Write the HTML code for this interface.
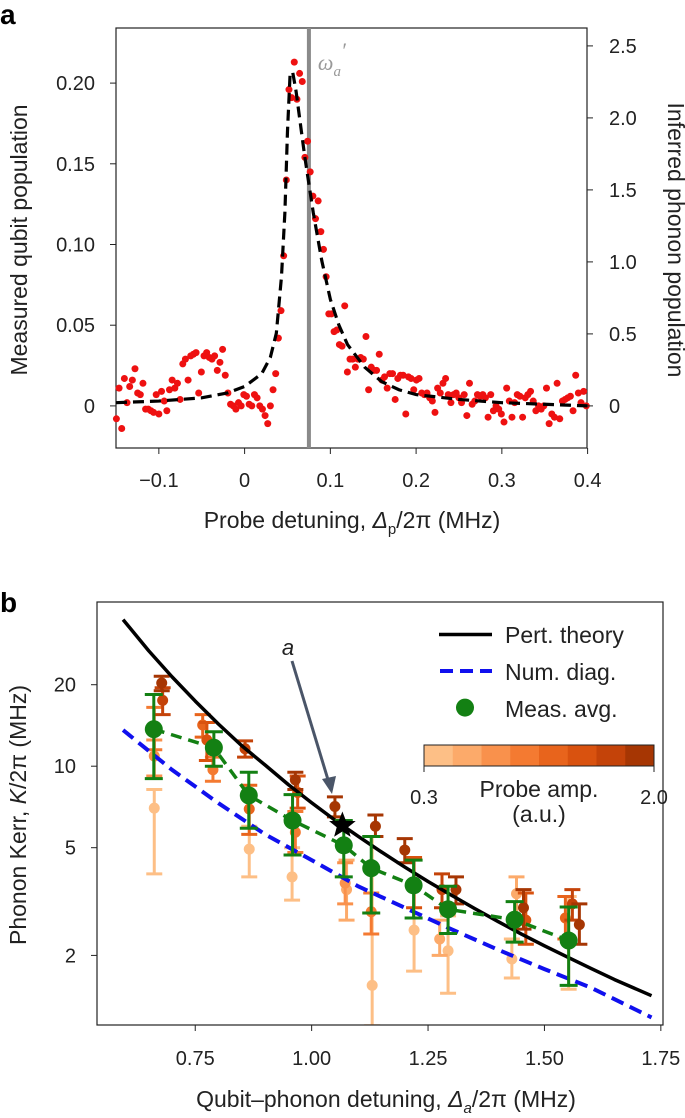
<!DOCTYPE html>
<html><head><meta charset="utf-8">
<style>
html,body{margin:0;padding:0;background:#fff;}
svg{display:block;font-family:"Liberation Sans",sans-serif;}
</style></head>
<body>
<svg id="fig" width="685" height="1118" viewBox="0 0 685 1118" xmlns="http://www.w3.org/2000/svg">
<text x="0" y="24" font-size="28" font-weight="bold">a</text>
<text x="0" y="612" font-size="28" font-weight="bold">b</text>
<g id="pa"></g>
<g id="pb"></g>
</svg>
<script>
// ---------- Panel a data ----------
const aXTicks = [-0.1, 0, 0.1, 0.2, 0.3, 0.4];
const aXTickLabels = ['\u22120.1','0','0.1','0.2','0.3','0.4'];
const aYTicks = [0, 0.05, 0.10, 0.15, 0.20];
const aYTickLabels = ['0','0.05','0.10','0.15','0.20'];
const aY2Ticks = [0, 0.5, 1.0, 1.5, 2.0, 2.5];
const aY2TickLabels = ['0','0.5','1.0','1.5','2.0','2.5'];
const aScatterY = [-0.008,0.011,-0.014,0.017,0.002,0.012,0.016,0.023,0.008,0.007,0.014,-0.002,-0.002,-0.003,-0.004,0.007,-0.005,0.009,0.003,-0.003,0.010,0.016,0.011,0.014,0.004,0.026,0.029,0.016,0.031,0.032,0.033,0.008,0.021,0.031,0.033,0.030,0.029,0.031,0.022,0.027,0.035,0.019,0.008,0.001,0.000,-0.002,0.002,0.000,0.007,0.006,0.001,0.000,0.007,0.005,0.000,-0.002,-0.006,-0.011,0.000,0.010,0.020,0.042,0.059,0.093,0.140,0.196,0.191,0.213,0.190,0.206,0.201,0.154,0.164,0.145,0.130,0.116,0.127,0.108,0.097,0.080,0.057,0.057,0.046,0.047,0.038,0.037,0.062,0.021,0.029,0.029,0.024,0.029,0.030,0.029,0.043,0.010,0.024,0.022,0.022,0.032,0.016,0.018,0.011,0.020,0.020,0.004,0.017,0.019,0.019,-0.005,0.018,0.017,0.010,0.016,0.017,0.008,0.007,0.008,0.005,0.003,-0.004,0.011,0.008,0.014,0.017,0.007,0.002,0.007,0.008,0.005,0.002,0.007,-0.006,0.014,0.001,0.003,0.007,0.006,0.007,0.005,-0.007,0.007,-0.003,0.000,-0.002,-0.005,-0.010,0.011,0.003,-0.007,0.002,0.007,0.006,-0.007,0.005,0.007,0.009,0.003,-0.003,0.000,-0.002,0.000,0.011,-0.011,-0.005,-0.007,0.014,-0.008,0.003,0.004,0.005,0.006,-0.003,0.019,0.008,0.002,0.009,0.000];
const aScatterXStart = -0.1495, aScatterXEnd = 0.3985;
const aFitX = [-0.15,-0.1,-0.05,-0.02,0,0.02,0.03,0.037,0.043,0.047,0.05,0.053,0.056,0.06,0.065,0.07,0.08,0.09,0.1,0.11,0.12,0.14,0.16,0.18,0.2,0.25,0.3,0.35,0.4];
const aFitY = [0.002,0.003,0.005,0.008,0.012,0.02,0.03,0.045,0.08,0.12,0.17,0.205,0.207,0.195,0.175,0.155,0.12,0.09,0.066,0.05,0.038,0.024,0.015,0.010,0.007,0.004,0.002,0.001,0.0];
const aMarkerX = 0.075;

// ---------- Panel b data ----------
const bXTicks = [0.75, 1.00, 1.25, 1.50, 1.75];
const bXTickLabels = ['0.75','1.00','1.25','1.50','1.75'];
const bYTicks = [2, 5, 10, 20];
const bYTickLabels = ['2','5','10','20'];
const theoryX = [0.595,0.65,0.7,0.75,0.8,0.85,0.9,0.95,1.0,1.05,1.1,1.15,1.2,1.25,1.3,1.35,1.4,1.45,1.5,1.55,1.6,1.65,1.73];
const theoryK = [34.8,26.7,21.4,17.4,14.3,11.9,10.1,8.55,7.33,6.32,5.51,4.82,4.24,3.75,3.34,2.98,2.67,2.40,2.17,1.97,1.79,1.63,1.42];
const numX = [0.595,0.7,0.8,0.9,1.0,1.1,1.2,1.3,1.4,1.5,1.6,1.73];
const numK = [13.6,9.7,7.3,5.6,4.5,3.6,3.0,2.5,2.1,1.78,1.52,1.18];
const avgX = [0.661,0.790,0.865,0.959,1.069,1.128,1.219,1.293,1.436,1.552];
const avgK = [13.7,11.7,7.8,6.3,5.1,4.2,3.63,2.96,2.71,2.27];
const avgLo = [9.0,10.0,5.9,4.7,3.9,2.87,2.75,2.41,2.24,1.55];
const avgHi = [18.4,13.4,9.5,7.85,6.3,5.5,4.5,3.6,3.16,3.02];
const ptX = [0.678,0.68,0.662,0.662,0.662,0.766,0.775,0.788,0.857,0.866,0.866,0.965,0.97,0.965,0.958,1.05,1.072,1.075,1.137,1.128,1.13,1.20,1.22,1.22,1.28,1.31,1.275,1.293,1.44,1.455,1.46,1.43,1.56,1.545,1.575,1.552];
const ptK = [20.3,17.5,13.8,10.9,7.0,14.2,12.5,9.7,11.6,6.95,4.94,8.9,8.0,5.7,3.9,7.1,3.7,3.5,6.0,2.9,1.55,4.9,3.7,2.48,3.5,3.5,2.3,2.08,3.38,3.0,2.7,1.94,3.1,2.75,2.6,2.2];
const ptLo = [19,15.5,11.5,9.2,4.0,12.8,10.5,8.8,10.8,5.6,3.9,8.2,7.0,4.8,3.2,6.5,3.1,2.7,5.5,2.4,1.1,4.4,3.0,1.75,3.0,3.1,2.0,1.45,2.6,2.5,2.2,1.65,2.7,2.3,2.2,1.5];
const ptHi = [21.5,19.5,16.5,12.5,8.2,15.5,14.5,10.8,12.4,8.5,6.0,9.5,9.2,6.8,5.0,7.7,4.4,4.5,6.6,3.4,5.5,5.4,4.6,3.6,4.0,3.9,2.7,2.8,3.9,3.5,3.4,2.3,3.5,3.3,3.1,3.3];
const ptLevel = [7,6,3,2,0,4,5,3,6,4,0,7,5,3,0,7,2,1,7,3,0,7,5,0,6,7,1,0,1,7,5,0,6,4,7,0];
const cbColors = ['#fdbf86','#fcaa6a','#f9914c','#f47a31','#e8641c','#d9520f','#c44309','#a63603'];

const NS='http://www.w3.org/2000/svg';
function mk(parent, tag, attrs, text){
  const e=document.createElementNS(NS,tag);
  for(const k in attrs) e.setAttribute(k, attrs[k]);
  if(text!==undefined) e.textContent=text;
  parent.appendChild(e); return e;
}
const TICK=20, TITLE=22;

// ---- Panel a ----
const pa=document.getElementById('pa');
const aL=116,aR=587,aT=28,aB=448;
const ax=v=>244.6+857.5*v;
const ay=v=>405.9-v*1614;
const ay2=v=>405.9-v*144;
let el;
el=mk(pa,'rect',{x:aL,y:aT,width:aR-aL,height:aB-aT,fill:'none',stroke:'#222','stroke-width':1.2});


el=mk(pa,'line',{x1:ax(aMarkerX),x2:ax(aMarkerX),y1:aT,y2:aB,stroke:'#8a8a8a','stroke-width':4});


el=mk(pa,'text',{x:ax(aMarkerX)+9,y:70,'font-size':22,fill:'#999','font-style':'italic','font-family':'"Liberation Serif",serif'});
el.innerHTML='ω<tspan font-size="15" dy="6">a</tspan><tspan dy="-18">′</tspan>';


const n=aScatterY.length;
aScatterY.forEach((v,i)=>{
  const xv=aScatterXStart+i*(aScatterXEnd-aScatterXStart)/(n-1);
  const c=mk(pa,'circle',{cx:ax(xv),cy:ay(v),r:3.5,fill:'#ee1111'});
  
  
});
el=mk(pa,'polyline',{points:aFitX.map((x,i)=>ax(x)+','+ay(aFitY[i])).join(' '),fill:'none',stroke:'#000','stroke-width':3.2,'stroke-dasharray':'11,6'});


aXTicks.forEach((t,i)=>{
  mk(pa,'line',{x1:ax(t),x2:ax(t),y1:aB,y2:aB+6,stroke:'#222'});
  el=mk(pa,'text',{x:ax(t),y:487,'font-size':TICK,'text-anchor':'middle',fill:'#222'},aXTickLabels[i]);
  
  
});
aYTicks.forEach((t,i)=>{
  mk(pa,'line',{x1:aL-6,x2:aL,y1:ay(t),y2:ay(t),stroke:'#222'});
  el=mk(pa,'text',{x:aL-21,y:ay(t)+7,'font-size':TICK,'text-anchor':'end',fill:'#222'},aYTickLabels[i]);
  
  
});
aY2Ticks.forEach((t,i)=>{
  mk(pa,'line',{x1:aR,x2:aR+6,y1:ay2(t),y2:ay2(t),stroke:'#222'});
  el=mk(pa,'text',{x:aR+22,y:ay2(t)+7,'font-size':TICK,'text-anchor':'start',fill:'#222'},aY2TickLabels[i]);
  
  
});
el=mk(pa,'text',{x:352,y:528,'font-size':TITLE+1,'text-anchor':'middle',fill:'#222'});
el.innerHTML='Probe detuning, <tspan font-style="italic">Δ</tspan><tspan font-size="15" dy="6">p</tspan><tspan dy="-6">/2π (MHz)</tspan>';


el=mk(pa,'text',{x:0,y:0,'font-size':TITLE+1,'text-anchor':'middle',fill:'#222',transform:'translate(27,240) rotate(-90)'},'Measured qubit population');


el=mk(pa,'text',{x:0,y:0,'font-size':TITLE+1,'text-anchor':'middle',fill:'#222',transform:'translate(668,240) rotate(90)'},'Inferred phonon population');



// ---- Panel b ----
const pb=document.getElementById('pb');
const bL=97,bR=663,bT=602,bB=1025;
const bx=v=>97+(v-0.539)*465.6;
const by=v=>766.2-(Math.log10(v)-1)*270.7;
const clipId='bclip';
const defs=mk(pb,'defs',{});
const cp=mk(defs,'clipPath',{id:clipId});
mk(cp,'rect',{x:bL,y:bT,width:bR-bL,height:bB-bT});
const g=mk(pb,'g',{'clip-path':'url(#'+clipId+')'});
const order=ptLevel.map((l,i)=>i).sort((a,b)=>ptLevel[a]-ptLevel[b]);
order.forEach(i=>{
  const c=cbColors[ptLevel[i]], x=bx(ptX[i]);
  const eg=mk(g,'g',{stroke:c,'stroke-width':3});
  
  
  mk(eg,'line',{x1:x,x2:x,y1:by(ptLo[i]),y2:by(ptHi[i])});
  mk(eg,'line',{x1:x-8,x2:x+8,y1:by(ptLo[i]),y2:by(ptLo[i])});
  mk(eg,'line',{x1:x-8,x2:x+8,y1:by(ptHi[i]),y2:by(ptHi[i])});
  const p=mk(g,'circle',{cx:x,cy:by(ptK[i]),r:5.5,fill:c});
  
  
});
el=mk(g,'polyline',{points:numX.map((x,i)=>bx(x)+','+by(numK[i])).join(' '),fill:'none',stroke:'#1010ee','stroke-width':4,'stroke-dasharray':'13,7'});


el=mk(g,'polyline',{points:theoryX.map((x,i)=>bx(x)+','+by(theoryK[i])).join(' '),fill:'none',stroke:'#000','stroke-width':3.5,'stroke-linejoin':'round'});


el=mk(g,'polyline',{points:avgX.map((x,i)=>bx(x)+','+by(avgK[i])).join(' '),fill:'none',stroke:'#138013','stroke-width':3.5,'stroke-dasharray':'11,7'});


avgX.forEach((xv,i)=>{
  const x=bx(xv);
  const eg=mk(g,'g',{stroke:'#138013','stroke-width':3});
  
  
  mk(eg,'line',{x1:x,x2:x,y1:by(avgLo[i]),y2:by(avgHi[i])});
  mk(eg,'line',{x1:x-9,x2:x+9,y1:by(avgLo[i]),y2:by(avgLo[i])});
  mk(eg,'line',{x1:x-9,x2:x+9,y1:by(avgHi[i]),y2:by(avgHi[i])});
  const p=mk(g,'circle',{cx:x,cy:by(avgK[i]),r:9,fill:'#138013'});
  
  
});
(function(){
  const cx=bx(1.066), cy=by(6.04), R=14, r=6; let pts=[];
  for(let k=0;k<10;k++){const a=-Math.PI/2+k*Math.PI/5, rr=k%2?r:R; pts.push((cx+rr*Math.cos(a)).toFixed(1)+','+(cy+rr*Math.sin(a)).toFixed(1));}
  const s=mk(g,'polygon',{points:pts.join(' '),fill:'#000'});
  
  
})();
el=mk(pb,'rect',{x:bL,y:bT,width:bR-bL,height:bB-bT,fill:'none',stroke:'#222','stroke-width':1.2});


el=mk(pb,'line',{x1:292,y1:661,x2:329,y2:783,stroke:'#4a5568','stroke-width':3});


mk(pb,'polygon',{points:'332,794 322,779 336,776',fill:'#4a5568'});
el=mk(pb,'text',{x:288,y:655,'font-size':22,'font-style':'italic','text-anchor':'middle',fill:'#222'},'a');


bXTicks.forEach((t,i)=>{
  mk(pb,'line',{x1:bx(t),x2:bx(t),y1:bB,y2:bB+6,stroke:'#222'});
  el=mk(pb,'text',{x:bx(t),y:1065,'font-size':TICK,'text-anchor':'middle',fill:'#222'},bXTickLabels[i]);
  
  
});
bYTicks.forEach((t,i)=>{
  mk(pb,'line',{x1:bL-6,x2:bL,y1:by(t),y2:by(t),stroke:'#222'});
  el=mk(pb,'text',{x:bL-21,y:by(t)+7,'font-size':TICK,'text-anchor':'end',fill:'#222'},bYTickLabels[i]);
  
  
});
el=mk(pb,'text',{x:386,y:1107,'font-size':TITLE+1,'text-anchor':'middle',fill:'#222'});
el.innerHTML='Qubit–phonon detuning, <tspan font-style="italic">Δ</tspan><tspan font-size="15" dy="6" font-style="italic">a</tspan><tspan dy="-6">/2π (MHz)</tspan>';


el=mk(pb,'text',{x:0,y:0,'font-size':TITLE+1,'text-anchor':'middle',fill:'#222',transform:'translate(26,815) rotate(-90)'});
el.innerHTML='Phonon Kerr, <tspan font-style="italic">K</tspan>/2π (MHz)';


const lg=mk(pb,'g',{});


mk(lg,'line',{x1:439,x2:492,y1:634.5,y2:634.5,stroke:'#000','stroke-width':3.5});
el=mk(lg,'text',{x:505,y:643,'font-size':23,fill:'#222'},'Pert. theory');


mk(lg,'line',{x1:440,x2:492,y1:671,y2:671,stroke:'#1010ee','stroke-width':4,'stroke-dasharray':'13,7'});
el=mk(lg,'text',{x:505,y:680,'font-size':23,fill:'#222'},'Num. diag.');


mk(lg,'circle',{cx:465,cy:707.6,r:9,fill:'#138013'});
el=mk(lg,'text',{x:505,y:717,'font-size':23,fill:'#222'},'Meas. avg.');


const cb=mk(pb,'g',{});


const cbx0=424, cbx1=654, cbw=(cbx1-cbx0)/cbColors.length;
cbColors.forEach((c,i)=>{ mk(cb,'rect',{x:cbx0+i*cbw,y:745,width:cbw+0.5,height:21,fill:c}); });
mk(cb,'rect',{x:cbx0,y:745,width:cbx1-cbx0,height:21,fill:'none',stroke:'#222','stroke-width':1});
mk(cb,'line',{x1:cbx0,x2:cbx0,y1:766,y2:772,stroke:'#222'});
mk(cb,'line',{x1:cbx1,x2:cbx1,y1:766,y2:772,stroke:'#222'});
mk(cb,'text',{x:cbx0,y:804,'font-size':TICK,'text-anchor':'middle',fill:'#222'},'0.3');
mk(cb,'text',{x:cbx1,y:804,'font-size':TICK,'text-anchor':'middle',fill:'#222'},'2.0');
mk(cb,'text',{x:539,y:797,'font-size':23,'text-anchor':'middle',fill:'#222'},'Probe amp.');
mk(cb,'text',{x:539,y:822,'font-size':23,'text-anchor':'middle',fill:'#222'},'(a.u.)');
</script>
</body></html>
